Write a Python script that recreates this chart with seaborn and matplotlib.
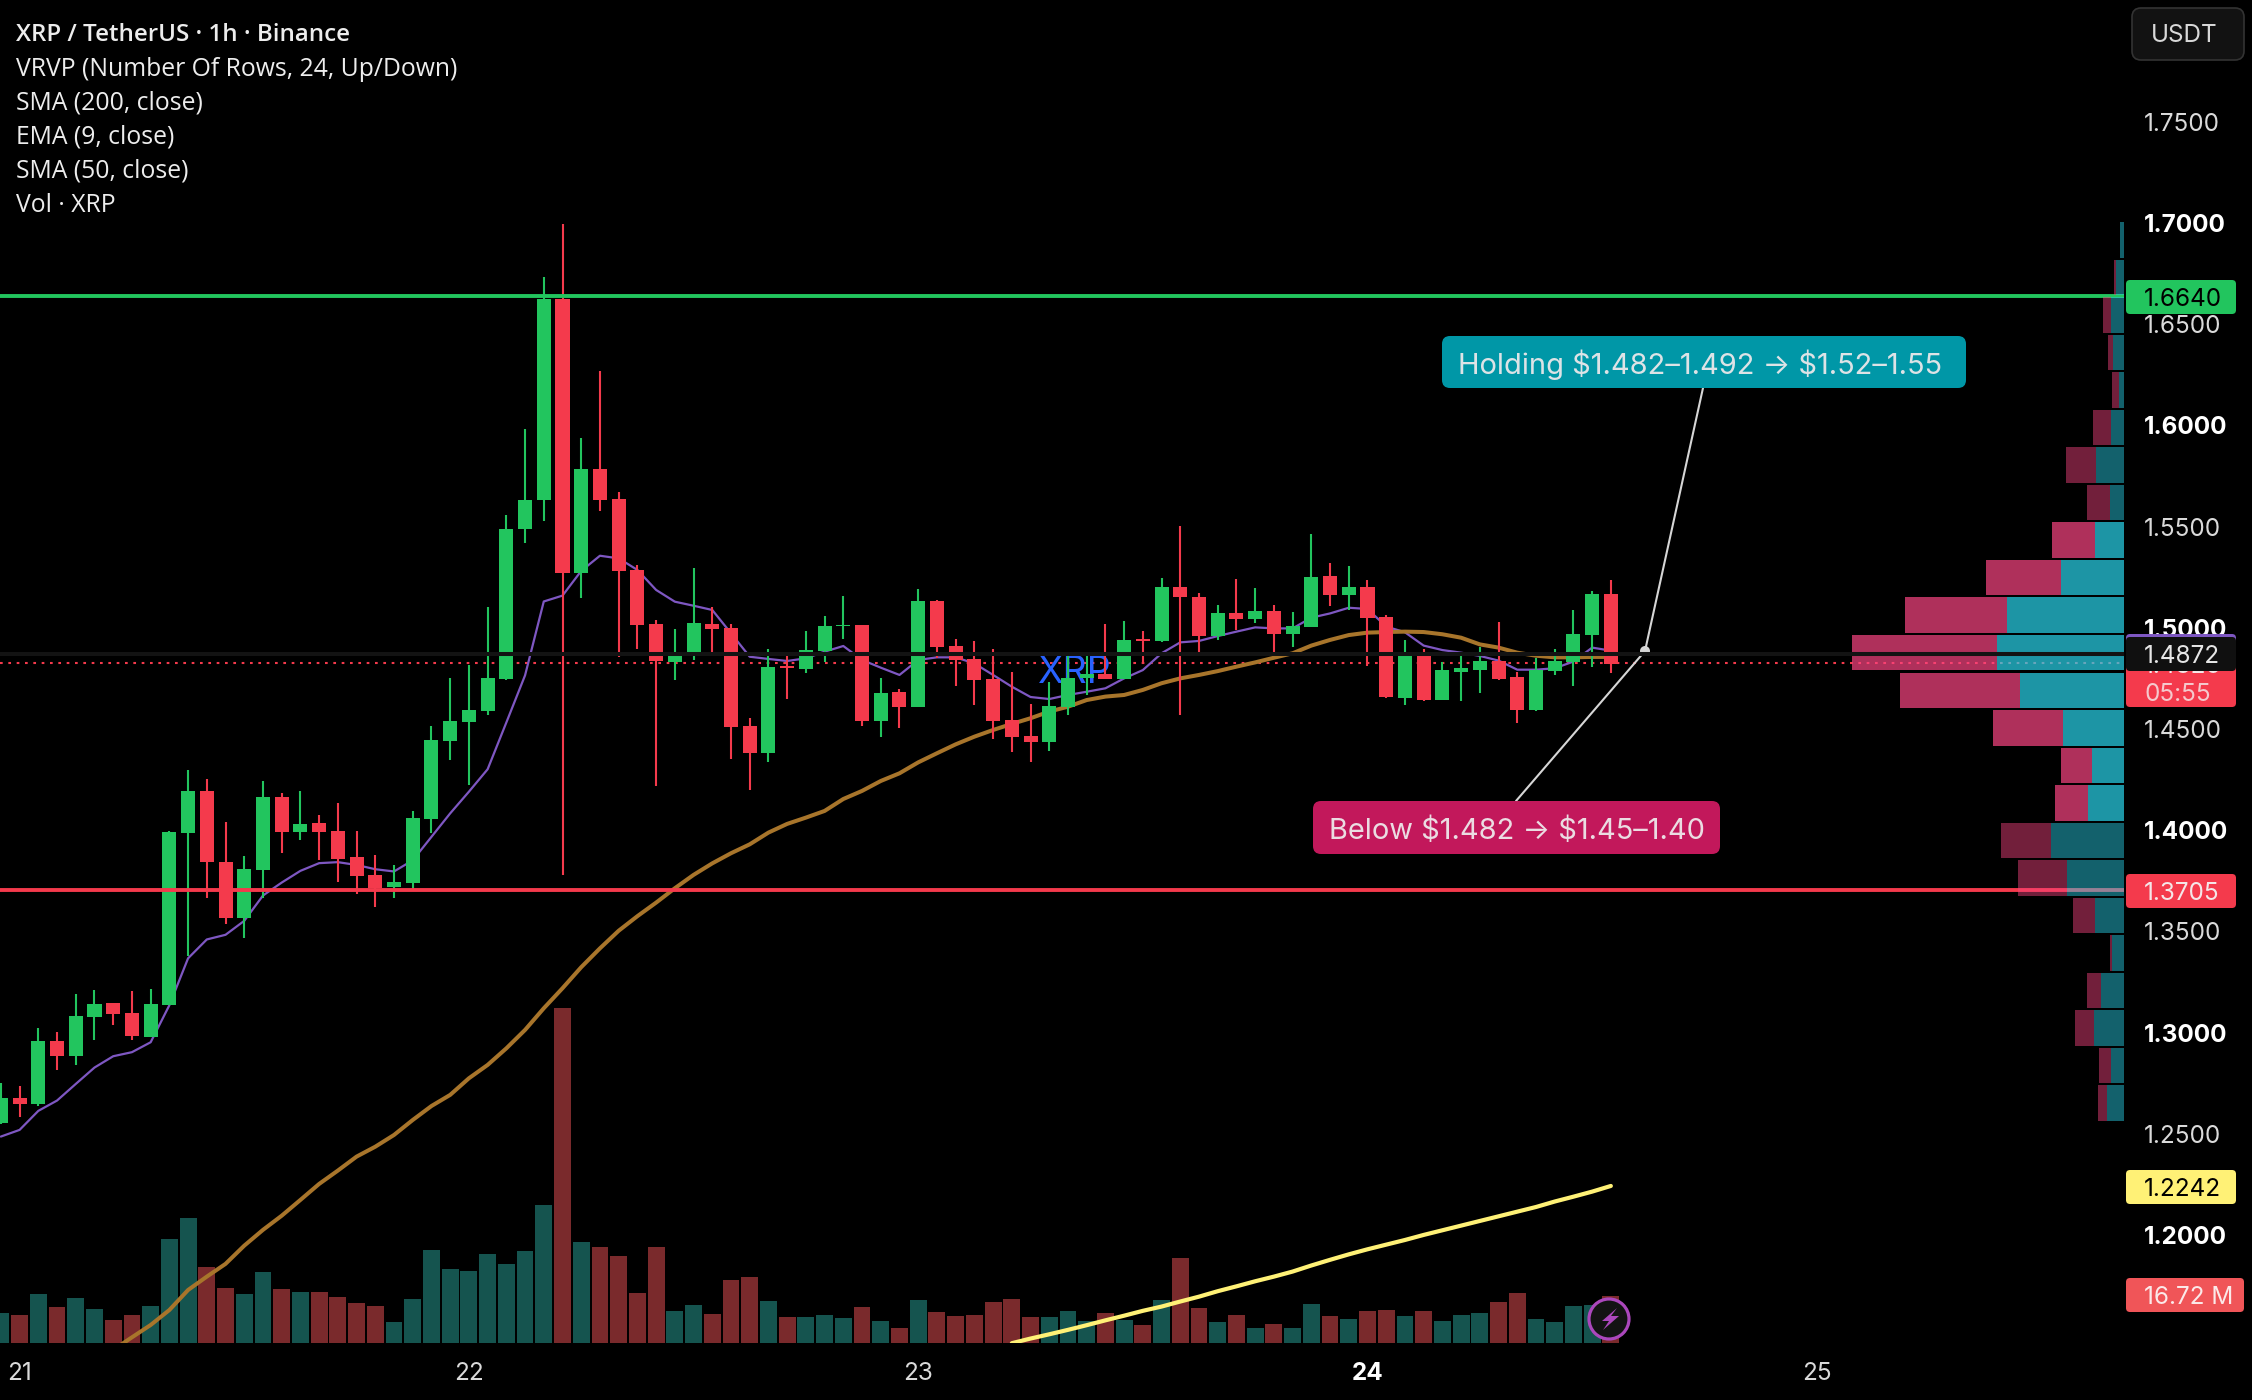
import matplotlib
matplotlib.use("Agg")
import matplotlib.pyplot as plt
import seaborn as sns
import numpy as np
from matplotlib.lines import Line2D
from matplotlib.patches import FancyBboxPatch, Circle, Polygon
from matplotlib.transforms import Affine2D

# hourly bars, index 0 = 21st 00:00
bar_index = list(range(-1, 86))

opens = [1.2555, 1.2677, 1.2647, 1.2958, 1.2884, 1.3077, 1.3146, 1.3097, 1.2978, 1.3135,
         1.3985, 1.4193, 1.3842, 1.3564, 1.3802, 1.4164, 1.3990, 1.4034, 1.3996, 1.3866,
         1.3779, 1.3718, 1.3738, 1.4054, 1.4440, 1.4533, 1.4588, 1.4747, 1.5487, 1.5632,
         1.6626, 1.5269, 1.5785, 1.5635, 1.5286, 1.5019, 1.4831, 1.4861, 1.5019, 1.4999,
         1.4515, 1.4381, 1.4811, 1.4796, 1.4885, 1.5009, 1.5014, 1.4539, 1.4683, 1.4609,
         1.5132, 1.4910, 1.4846, 1.4747, 1.4544, 1.4465, 1.4436, 1.4609, 1.4752, 1.4772,
         1.4747, 1.4945, 1.4935, 1.5202, 1.5152, 1.4959, 1.5073, 1.5043, 1.5083, 1.4969,
         1.5004, 1.5256, 1.5162, 1.5202, 1.5053, 1.4653, 1.4861, 1.4643, 1.4781, 1.4791,
         1.4836, 1.4757, 1.4594, 1.4786, 1.4831, 1.4964, 1.5167]
highs = [1.2749, 1.2736, 1.3021, 1.3003, 1.3191, 1.3210, 1.3146, 1.3205, 1.3215, 1.3996,
         1.4298, 1.4251, 1.4040, 1.3871, 1.4242, 1.4182, 1.4194, 1.4074, 1.4132, 1.3996,
         1.3877, 1.3828, 1.4095, 1.4515, 1.4750, 1.4814, 1.5101, 1.5556, 1.5983, 1.6734,
         1.6995, 1.5936, 1.6270, 1.5669, 1.5310, 1.5039, 1.4994, 1.5294, 1.5103, 1.5019,
         1.4554, 1.4895, 1.4861, 1.4984, 1.5058, 1.5157, 1.5014, 1.4752, 1.4698, 1.5192,
         1.5139, 1.4945, 1.4935, 1.4895, 1.4782, 1.4623, 1.4732, 1.4861, 1.4861, 1.5019,
         1.5034, 1.4984, 1.5246, 1.5503, 1.5172, 1.5113, 1.5241, 1.5197, 1.5113, 1.5078,
         1.5463, 1.5320, 1.5305, 1.5236, 1.5063, 1.4940, 1.4895, 1.4831, 1.4861, 1.4905,
         1.5029, 1.4782, 1.4851, 1.4895, 1.5088, 1.5182, 1.5236]
lows = [1.2547, 1.2583, 1.2637, 1.2815, 1.2840, 1.2963, 1.3037, 1.2963, 1.2978, 1.3135,
        1.3378, 1.3663, 1.3535, 1.3465, 1.3663, 1.3886, 1.3950, 1.3854, 1.3744, 1.3683,
        1.3619, 1.3663, 1.3709, 1.3985, 1.4347, 1.4222, 1.4567, 1.4741, 1.5417, 1.5527,
        1.3779, 1.5147, 1.5577, 1.4854, 1.4895, 1.4220, 1.4742, 1.4841, 1.4881, 1.4352,
        1.4199, 1.4337, 1.4648, 1.4777, 1.4831, 1.4945, 1.4515, 1.4460, 1.4505, 1.4609,
        1.4851, 1.4712, 1.4618, 1.4451, 1.4386, 1.4337, 1.4391, 1.4569, 1.4668, 1.4747,
        1.4747, 1.4831, 1.4930, 1.4569, 1.4880, 1.4940, 1.4989, 1.5024, 1.4881, 1.4905,
        1.5004, 1.5108, 1.5088, 1.4811, 1.4653, 1.4619, 1.4638, 1.4643, 1.4638, 1.4678,
        1.4742, 1.4530, 1.4589, 1.4767, 1.4712, 1.4806, 1.4777]
closes = [1.2677, 1.2647, 1.2958, 1.2884, 1.3082, 1.3141, 1.3092, 1.2983, 1.3141, 1.3990,
          1.4193, 1.3842, 1.3564, 1.3807, 1.4164, 1.3990, 1.4028, 1.3990, 1.3857, 1.3773,
          1.3712, 1.3744, 1.4060, 1.4446, 1.4538, 1.4594, 1.4750, 1.5487, 1.5632, 1.6626,
          1.5269, 1.5785, 1.5632, 1.5282, 1.5014, 1.4836, 1.4861, 1.5024, 1.4994, 1.4510,
          1.4381, 1.4806, 1.4803, 1.4890, 1.5009, 1.5016, 1.4539, 1.4678, 1.4609, 1.5132,
          1.4905, 1.4841, 1.4742, 1.4539, 1.4460, 1.4436, 1.4614, 1.4752, 1.4772, 1.4747,
          1.4940, 1.4935, 1.5202, 1.5152, 1.4959, 1.5073, 1.5043, 1.5083, 1.4969, 1.5009,
          1.5251, 1.5162, 1.5202, 1.5048, 1.4658, 1.4861, 1.4643, 1.4791, 1.4801, 1.4836,
          1.4747, 1.4594, 1.4791, 1.4836, 1.4969, 1.5167, 1.4821]
volumes = [10.6, 9.8, 17.3, 12.7, 15.9, 12.0, 8.1, 9.8, 13.0, 36.9,
           44.4, 26.9, 19.5, 17.3, 25.1, 19.1, 18.0, 18.0, 16.2, 14.1,
           13.0, 7.4, 15.5, 33.0, 26.2, 25.5, 31.5, 28.0, 32.6, 49.0,
           119.1, 35.8, 34.0, 30.8, 17.7, 34.0, 11.3, 13.4, 10.2, 22.3,
           23.4, 14.8, 9.1, 9.1, 9.8, 8.8, 12.7, 7.7, 5.2, 15.2,
           10.9, 9.5, 9.8, 14.5, 15.5, 9.1, 9.1, 11.3, 7.7, 10.6,
           8.1, 6.3, 15.2, 30.1, 12.3, 7.4, 9.8, 5.2, 6.6, 5.2,
           13.8, 9.5, 8.4, 11.3, 11.6, 9.5, 11.3, 7.7, 9.8, 10.6,
           14.5, 17.7, 8.4, 7.4, 13.0, 13.4, 16.72]

ema9 = [1.2486, 1.2519, 1.2613, 1.2664, 1.2746, 1.2827, 1.2883, 1.2903, 1.2952, 1.3135,
        1.3367, 1.3460, 1.3483, 1.3552, 1.3677, 1.3741, 1.3799, 1.3837, 1.3842, 1.3828,
        1.3807, 1.3796, 1.3851, 1.3967, 1.4083, 1.4190, 1.4301, 1.4532, 1.4765, 1.5130,
        1.5159, 1.5281, 1.5356, 1.5343, 1.5286, 1.5187, 1.5129, 1.5109, 1.5088, 1.4973,
        1.4857, 1.4846, 1.4836, 1.4849, 1.4882, 1.4910, 1.4841, 1.4803, 1.4767, 1.4841,
        1.4854, 1.4854, 1.4824, 1.4767, 1.4709, 1.4658, 1.4648, 1.4668, 1.4684, 1.4701,
        1.4750, 1.4791, 1.4874, 1.4928, 1.4935, 1.4959, 1.4981, 1.5002, 1.4997, 1.4997,
        1.5050, 1.5071, 1.5099, 1.5093, 1.5006, 1.4978, 1.4912, 1.4890, 1.4877, 1.4861,
        1.4838, 1.4793, 1.4793, 1.4800, 1.4833, 1.4902, 1.4887]

# SMA 50 comes in from below the pane at bar 5
sma50_index = list(range(5, 86))
sma50 = [1.1432, 1.1494, 1.1555, 1.1629, 1.1728, 1.1794, 1.1857, 1.1947, 1.2025, 1.2095,
         1.2173, 1.2252, 1.2318, 1.2387, 1.2436, 1.2494, 1.2568, 1.2637, 1.2692, 1.2774,
         1.2840, 1.2922, 1.3013, 1.3120, 1.3219, 1.3323, 1.3416, 1.3503, 1.3575, 1.3642,
         1.3713, 1.3779, 1.3836, 1.3886, 1.3930, 1.3988, 1.4031, 1.4062, 1.4095, 1.4154,
         1.4194, 1.4243, 1.4281, 1.4335, 1.4380, 1.4424, 1.4462, 1.4495, 1.4525, 1.4553,
         1.4586, 1.4610, 1.4643, 1.4660, 1.4668, 1.4693, 1.4726, 1.4750, 1.4767, 1.4786,
         1.4808, 1.4829, 1.4852, 1.4874, 1.4912, 1.4940, 1.4964, 1.4976, 1.4979, 1.4981,
         1.4979, 1.4968, 1.4951, 1.4918, 1.4902, 1.4877, 1.4862, 1.4854, 1.4854, 1.4856,
         1.4856]

sma200_index = list(range(53, 86))
sma200 = [1.1465, 1.1488, 1.1509, 1.1531, 1.1554, 1.1578, 1.1601, 1.1625, 1.1646, 1.1671,
          1.1695, 1.1722, 1.1746, 1.1771, 1.1794, 1.1819, 1.1849, 1.1877, 1.1904, 1.1929,
          1.1952, 1.1975, 1.2000, 1.2023, 1.2046, 1.2069, 1.2092, 1.2115, 1.2138, 1.2165,
          1.2189, 1.2214, 1.2242]

# volume profile rows, top row first
vp_top = 1.7010
vp_step = 0.01855
vp_up = [4, 8.3, 13, 11, 5, 13, 28, 14, 29, 63, 117, 127, 104, 61, 32, 36, 73, 57, 29, 12, 23, 30, 13, 17]
vp_down = [0, 1.7, 8, 5, 7, 18, 30, 23, 43, 75, 102, 145, 120, 70, 31, 33, 50, 49, 22, 2, 14, 19, 12, 9]
vp_in_value_area = [False] * 8 + [True] * 8 + [False] * 8

resistance = 1.6640
support = 1.3705
last_price = 1.4872
bar_close = 1.4826
y_ticks = [1.20, 1.25, 1.30, 1.35, 1.40, 1.45, 1.50, 1.55, 1.60, 1.65, 1.70, 1.75]
bold_ticks = [1.20, 1.30, 1.40, 1.50, 1.60, 1.70]
day_ticks = [0, 24, 48, 72, 96]
day_labels = ["21", "22", "23", "24", "25"]
legend_lines = ["XRP / TetherUS · 1h · Binance", "VRVP (Number Of Rows, 24, Up/Down)", "SMA (200, close)",
                "EMA (9, close)", "SMA (50, close)", "Vol · XRP"]

GREEN = "#22C55E"
RED = "#F43A4C"
W, H = 2252, 1400
PANE_W, PANE_H = 2124, 1343
TAG_SIZE = 17.5

sns.set_theme(style="dark", rc={"axes.facecolor": "black", "figure.facecolor": "black",
                                "axes.grid": False})
plt.rcParams["font.family"] = ["Inter", "DejaVu Sans"]

fig = plt.figure(figsize=(W / 100, H / 100), dpi=100)
pos = [0, (H - PANE_H) / H, PANE_W / W, PANE_H / H]
ax_vol = fig.add_axes(pos, zorder=1)
ax = fig.add_axes(pos, zorder=2)
ax_vp = fig.add_axes(pos, zorder=3)
ax.patch.set_visible(False)
ax_vp.patch.set_visible(False)

x_lim = (-1.047, 112.41)
y_lim = (1.1466, 1.8102)

# pixel coords with origin top left, for the chart furniture
pix = Affine2D().scale(1, -1).translate(0, H)

# volume pane
vol_dir = ["up" if c >= o else "down" for o, c in zip(opens, closes)]
sns.barplot(x=bar_index, y=volumes, hue=vol_dir, palette={"up": "#15544F", "down": "#7A2A2C"},
            dodge=False, native_scale=True, width=0.9, saturation=1, legend=False, linewidth=0, ax=ax_vol)
ax_vol.set_xlim(x_lim)
ax_vol.set_ylim(0, 477.7)
ax_vol.axis("off")

# averages sit under the candles
sns.lineplot(x=bar_index, y=ema9, color="#7E57C2", linewidth=1.6, errorbar=None, ax=ax, zorder=2)
sns.lineplot(x=sma50_index, y=sma50, color="#A8752B", linewidth=2.9, errorbar=None, ax=ax, zorder=2)
sns.lineplot(x=sma200_index, y=sma200, color="#FFF176", linewidth=3, errorbar=None, ax=ax, zorder=2)
ax.lines[-1].set_solid_capstyle("round")

ax.text(1075, 673, "XRP", transform=pix, color="#2962FF", fontsize=27, ha="center", va="center", zorder=1.5)

# candles
candle_colors = [GREEN if c >= o else RED for o, c in zip(opens, closes)]
ax.vlines(bar_index, lows, highs, colors=candle_colors, linewidth=1.5, zorder=3)
ax.bar(bar_index, np.abs(np.array(closes) - np.array(opens)), bottom=np.minimum(opens, closes),
       width=0.75, color=candle_colors, linewidth=0, zorder=4)

ax.axhline(resistance, color=GREEN, linewidth=2.8, zorder=5)
ax.axhline(support, color=RED, linewidth=2.8, zorder=5)
ax.axhline(bar_close, color=RED, linewidth=1.5, linestyle=(0, (1.3, 2.7)), zorder=1)

ax.set_xlim(x_lim)
ax.set_ylim(y_lim)
ax.yaxis.tick_right()
ax.set_yticks(y_ticks, [f"{t:.4f}" for t in y_ticks])
ax.set_xticks(day_ticks, day_labels)
ax.tick_params(axis="y", length=0, pad=14, labelsize=TAG_SIZE, labelcolor="#DADADA")
ax.tick_params(axis="x", length=0, pad=14, labelsize=TAG_SIZE, labelcolor="#DADADA")
for t, lab in zip(y_ticks, ax.get_yticklabels()):
    if t in bold_ticks:
        lab.set_fontweight("bold")
        lab.set_color("white")
ax.get_xticklabels()[3].set_fontweight("bold")
ax.get_xticklabels()[3].set_color("white")
sns.despine(ax=ax, left=True, bottom=True, right=True, top=True)

# volume profile, right aligned against the price scale
centers = [vp_top - vp_step * (k + 0.5) for k in range(len(vp_up))]
alphas = [0.7 if v else 0.46 for v in vp_in_value_area]
vp_h = vp_step * 0.945
for c, u, d, a in zip(centers, vp_up, vp_down, alphas):
    ax_vp.barh(c, u, height=vp_h, color="#2AD5EC", alpha=a, linewidth=0)
    ax_vp.barh(c, d, left=u, height=vp_h, color="#FA4582", alpha=a, linewidth=0)
ax_vp.axhline(last_price, color="#131313", linewidth=2.9)
ax_vp.set_xlim(PANE_W, 0)
ax_vp.set_ylim(y_lim)
ax_vp.axis("off")


def pix_box(x0, y0, x1, y1, color, radius=4, ec="none", lw=0, target=None, zorder=10):
    box = FancyBboxPatch((x0 + radius, y0 + radius), x1 - x0 - 2 * radius, y1 - y0 - 2 * radius,
                         boxstyle=f"round,pad={radius},rounding_size={radius}", transform=pix,
                         facecolor=color, edgecolor=ec, linewidth=lw, zorder=zorder, clip_on=False)
    (target or fig).add_artist(box)


def pix_text(x, y, s, color, size=TAG_SIZE, ha="left", weight="normal", family=None, zorder=11):
    kw = {"family": family} if family else {}
    fig.text(x / W, 1 - y / H, s, color=color, fontsize=size, ha=ha, va="center_baseline",
             fontweight=weight, zorder=zorder, **kw)


# trade callouts, leader lines meet just above the last price
ax.add_artist(Line2D([1703, 1645, 1516], [388, 651, 801], transform=pix, color="#D6D6D6", linewidth=1.5, zorder=6, clip_on=False))
ax.add_artist(Circle((1645, 651), 5, transform=pix, facecolor="#D6D6D6", edgecolor="none", zorder=6))
pix_box(1442, 336, 1966, 388, "#0097A7", radius=8, target=ax, zorder=7)
pix_box(1313, 801, 1720, 854, "#C2185B", radius=8, target=ax, zorder=7)
ax.text(1458, 362, "Holding $1.482–1.492 → $1.52–1.55", transform=pix, color="#DDE3E6", fontsize=20.9,
        va="center_baseline", zorder=8, parse_math=False)
ax.text(1329, 828, "Below $1.482 → $1.45–1.40", transform=pix, color="#EBDCE2", fontsize=20.9,
        va="center_baseline", zorder=8, parse_math=False)

# lightning badge on the last volume bar
ax.add_artist(Circle((1609, 1319), 20, transform=pix, facecolor="#131313", edgecolor="#AB47BC", linewidth=2.3, zorder=6))
ax.add_artist(Polygon([(1617, 1308), (1602, 1321), (1609, 1321), (1603, 1330), (1619, 1316), (1611, 1316)],
                      closed=True, transform=pix, facecolor="#AB47BC", edgecolor="none", zorder=7))

# price scale tags
pix_box(2126, 280, 2236, 314, GREEN)
pix_text(2144, 297, f"{resistance:.4f}", "black")
pix_box(2126, 874, 2236, 908, RED)
pix_text(2144, 891, f"{support:.4f}", "#F5E6E8")
pix_box(2126, 1170, 2236, 1204, "#FFF176")
pix_text(2144, 1187, f"{sma200[-1]:.4f}", "black")
pix_box(2126, 1278, 2244, 1312, "#F05558")
pix_text(2144, 1295, f"{volumes[-1]:.2f} M", "#FBE9E9")

pix_box(2126, 648, 2236, 707, RED, zorder=10)
pix_text(2144, 664, "1.4826", "#F5E6E8", zorder=10.5)
pix_text(2144, 692, "05:55", "#F5C9CD", zorder=11)
pix_box(2126, 634, 2236, 668, "#7E57C2", zorder=12)
pix_box(2126, 637, 2236, 671, "#101010", zorder=13)
pix_text(2144, 654, f"{last_price:.4f}", "#E6E6E6", zorder=14)

# currency button
pix_box(2132, 8, 2244, 60, "#121212", radius=9, ec="#333333", lw=1.2)
pix_text(2151, 33, "USDT", "#D8D8D8", size=TAG_SIZE)

# top left legend
for k, line in enumerate(legend_lines):
    pix_text(16, 32 + 34 * k, line, "#EDEDED", size=17.4 if k == 0 else 17.8,
             weight="semibold" if k == 0 else "normal", family=["Open Sans", "DejaVu Sans"])

fig.savefig("out.png", dpi=100, facecolor="black")
